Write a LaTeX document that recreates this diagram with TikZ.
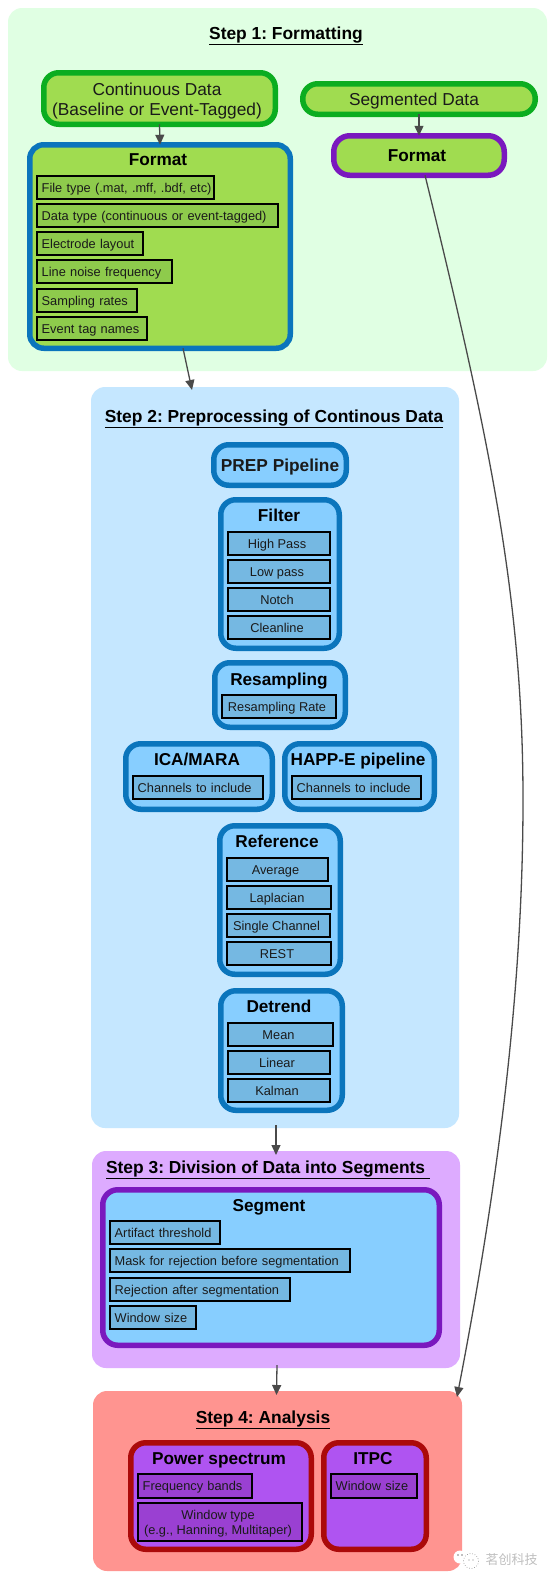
\documentclass[tikz,border=0pt]{standalone}
\usepackage{fontspec}
\setmainfont{Liberation Sans}
\newfontfamily\cjkwm{Noto Sans CJK SC}
\usetikzlibrary{arrows.meta}
\definecolor{bgA}{HTML}{E0FFE3}
\definecolor{bgB}{HTML}{C5E7FF}
\definecolor{bgC}{HTML}{DDABFF}
\definecolor{bgD}{HTML}{FF9490}
\definecolor{lime}{HTML}{A0DC50}
\definecolor{limeS}{HTML}{8ECB4C}
\definecolor{sky}{HTML}{87CEFF}
\definecolor{skyS}{HTML}{75B8E2}
\definecolor{vio}{HTML}{AF54F1}
\definecolor{vioS}{HTML}{9A40D2}
\definecolor{edgeG}{HTML}{0BAD20}
\definecolor{edgeB}{HTML}{0B75BC}
\definecolor{edgeP}{HTML}{7A18BE}
\definecolor{edgeR}{HTML}{AB0A0A}
\definecolor{arrowc}{HTML}{4A4A4A}
\definecolor{ink}{HTML}{1A1A1A}
\tikzset{
  base/.style={inner sep=0pt,outer sep=0pt,align=center,text=ink},
  panel/.style={base,rounded corners=14pt},
  thick5/.style={base,rounded corners=15pt,line width=5.5pt,font=\fontsize{17.3}{20}\selectfont},
  oneline/.style={text height=15pt,text depth=3pt},
  subbox/.style={base,draw=black,line width=2pt,font=\fontsize{12.8}{15.3}\selectfont},
  subline/.style={text height=12pt,text depth=3pt},
  ttl/.style={inner sep=0pt,outer sep=0pt,anchor=base,text=black,font=\bfseries\fontsize{17.4}{20}\selectfont},
  hd/.style={inner sep=0pt,outer sep=0pt,anchor=base,text=black,font=\bfseries\fontsize{17.2}{20}\selectfont},
  arr/.style={draw=arrowc,line width=1.3pt,-{Triangle[length=10pt,width=9pt]}},
}
% generic box from outer edges: style, line width, x1,y1,x2,y2, name, text
\newcommand\bx[8]{\node[#1,minimum width={#5-#3-#2},minimum height={#6-#4-#2}] (#7) at ({(#3+#5)/2},{(#4+#6)/2}) {#8};}
% left aligned sub box
\newcommand\lb[7]{\node[subbox,subline,#1,minimum height={#5-#3-2},text width={#4-#2-2-9.4},align=left,inner xsep=4.7pt] (#6) at ({(#2+#4)/2},{(#3+#5)/2}) {\mbox{#7}};}
% centred sub box (its text sits a little left of the middle)
\newcommand\cb[7]{\bx{subbox,subline,#1}{2}{#2}{#3}{#4}{#5}{#6}{#7\kern4pt}}
\begin{document}
\frenchspacing
\begin{tikzpicture}[x=1pt,y=-1pt]
\useasboundingbox (0,0) rectangle (554,1585);
\fill[white] (0,0) rectangle (554,1585);
% panels
\bx{panel,fill=bgA}{0}{8}{8}{547}{371}{st1}{}
\bx{panel,fill=bgB}{0}{91}{387}{459}{1128}{st2}{}
\bx{panel,fill=bgC}{0}{92}{1151}{460}{1368}{st3}{}
\bx{panel,fill=bgD}{0}{93}{1391}{462}{1571}{st4}{}
\node[ttl] (t1) at (286,39) {\underline{Step 1: Formatting}};
\node[ttl] (t2) at (274,422) {\underline{Step 2: Preprocessing of Continous Data}};
\node[ttl] (t3) at (268,1173) {\underline{Step 3: Division of Data into Segments\ }};
\node[ttl] (t4) at (263,1423) {\underline{Step 4: Analysis}};
% step 1
\bx{thick5,fill=lime,draw=edgeG}{5.5}{41}{70}{278}{127}{cd}{\rule{0pt}{17pt}Continuous Data\kern5pt\\(Baseline or Event-Tagged)\kern5pt}
\bx{thick5,oneline,fill=lime,draw=edgeG,rounded corners=15pt}{5.5}{300}{81}{538}{117}{sd}{Segmented Data\kern10pt}
\bx{thick5,fill=lime,draw=edgeB,rounded corners=14pt}{5.5}{27}{142}{293}{351}{fb}{}
\bx{thick5,fill=lime,draw=edgeP,rounded corners=16pt}{5.5}{331}{133}{507}{178}{fp}{}
\node[hd] (fbt) at (158,165.5) {Format};
\node[hd] (fpt) at (417,161.5) {Format};
\lb{fill=limeS}{36}{175}{215}{200}{s1}{File type (.mat, .mff, .bdf, etc)}
\lb{fill=limeS}{36}{203}{279}{228}{s2}{Data type (continuous or event-tagged)}
\lb{fill=limeS}{36}{231}{144}{256}{s3}{Electrode layout}
\lb{fill=limeS}{36}{259}{173}{284}{s4}{Line noise frequency}
\lb{fill=limeS}{36}{288}{138}{313}{s5}{Sampling rates}
\lb{fill=limeS}{36}{316}{148}{341}{s6}{Event tag names}
% step 2
\bx{thick5,oneline,fill=sky,draw=edgeB}{5.5}{211}{442}{349}{488}{prep}{\bfseries PREP Pipeline}
\bx{thick5,fill=sky,draw=edgeB}{5.5}{218}{497}{342}{651}{filt}{}
\node[hd] (filtt) at (279,521.5) {Filter};
\cb{fill=skyS}{227}{531}{331}{556}{hp}{High Pass}
\cb{fill=skyS}{227}{559}{331}{584}{lp}{Low pass}
\cb{fill=skyS}{227}{587}{331}{612}{no}{Notch}
\cb{fill=skyS}{227}{615}{331}{640}{cl}{Cleanline}
\bx{thick5,fill=sky,draw=edgeB}{5.5}{212}{660}{348}{730}{res}{}
\node[hd] (rest) at (279,685) {Resampling};
\cb{fill=skyS}{221}{694}{337}{719}{rr}{Resampling Rate}
\bx{thick5,fill=sky,draw=edgeB}{5.5}{123}{741}{275}{812}{ica}{}
\node[hd] (icat) at (197,765.5) {ICA/MARA};
\lb{fill=skyS}{132}{775}{264}{800}{ic}{Channels to include}
\bx{thick5,fill=sky,draw=edgeB}{5.5}{282}{741}{437}{812}{hap}{}
\node[hd] (hapt) at (358,765.5) {HAPP-E pipeline};
\lb{fill=skyS}{291}{775}{422}{800}{hc}{Channels to include}
\bx{thick5,fill=sky,draw=edgeB}{5.5}{217}{823}{343}{977}{ref}{}
\node[hd] (reft) at (277,847.5) {Reference};
\cb{fill=skyS}{226}{857}{329}{882}{av}{Average}
\cb{fill=skyS}{226}{885}{332}{910}{la}{Laplacian}
\cb{fill=skyS}{226}{913}{331}{938}{si}{Single Channel}
\cb{fill=skyS}{226}{941}{332}{966}{re}{REST}
\bx{thick5,fill=sky,draw=edgeB}{5.5}{218}{988}{345}{1113}{det}{}
\node[hd] (dett) at (279,1012) {Detrend};
\cb{fill=skyS}{227}{1022}{334}{1047}{me}{Mean}
\cb{fill=skyS}{227}{1050}{331}{1075}{li}{Linear}
\cb{fill=skyS}{227}{1078}{331}{1103}{ka}{Kalman}
% step 3
\bx{thick5,fill=sky,draw=edgeP}{5.5}{100}{1187}{442}{1348}{seg}{}
\node[hd] (segt) at (269,1211) {Segment};
\lb{fill=skyS}{109}{1220}{221}{1245}{a1}{Artifact threshold}
\lb{fill=skyS}{109}{1248}{351}{1273}{a2}{Mask for rejection before segmentation}
\lb{fill=skyS}{109}{1277}{291}{1302}{a3}{Rejection after segmentation}
\lb{fill=skyS}{109}{1305}{197}{1330}{a4}{Window size}
% step 4
\bx{thick5,fill=vio,draw=edgeR}{5.5}{128}{1440}{314}{1552}{pow}{}
\node[hd] (powt) at (219,1464) {Power spectrum};
\lb{fill=vioS}{137}{1473}{253}{1499}{f1}{Frequency bands}
\bx{subbox,fill=vioS}{2}{137}{1502}{303}{1542}{f2}{\rule{0pt}{13pt}Window type\kern4pt\\(e.g., Hanning, Multitaper)\kern4pt}
\bx{thick5,fill=vio,draw=edgeR}{5.5}{321}{1440}{429}{1552}{itp}{}
\node[hd] (itpt) at (373,1464) {ITPC};
\lb{fill=vioS}{330}{1473}{418}{1499}{w1}{Window size}
% connectors
\draw[arr] (cd.south) -- (fb.north);
\draw[arr] (sd.south) -- (fp.north);
\draw[arr] ([xshift=23pt]fb.south) -- ([xshift=-83pt,yshift=-3pt]st2.north);
\draw[arr] ([xshift=1pt,yshift=3pt]st2.south) -- ([xshift=0pt,yshift=-4pt]st3.north);
\draw[arr] ([xshift=1pt,yshift=3pt]st3.south) -- ([xshift=-1pt,yshift=-4pt]st4.north);
\draw[arr] ([xshift=6pt]fp.south) .. controls (490,440) and (523,600) .. (523,800) .. controls (523,1000) and (495,1200) .. ([xshift=-5pt,yshift=-6pt]st4.north east);
% watermark
\fill[white] (460,1557) circle (6.5);
\fill[white] (471,1561) circle (7.5);
\draw[gray,line width=.6pt,dotted] (471,1561) circle (7.5);
\fill[gray] (458,1555) circle (.8) (462,1555) circle (.8) (469,1560) circle (.7) (473,1560) circle (.7);
\node[inner sep=0pt,text=white!50!gray,font=\cjkwm\fontsize{13}{15}\selectfont] (wm) at (511.5,1560) {茗创科技};
\end{tikzpicture}
\end{document}
